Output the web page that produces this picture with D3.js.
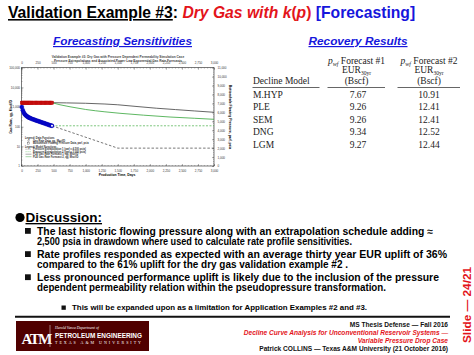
<!DOCTYPE html>
<html><head><meta charset="utf-8">
<script src="https://cdn.jsdelivr.net/npm/d3@7"></script>
<style>body{margin:0;background:#fff}svg{display:block}</style>
</head><body><div id="c"></div>
<script>
// ---------- data ----------
const dataDays = [5,20,35,50,65,80,95,110,125,140,160,180,200,220,240,260,280,300,320,340,360,380,400,420,440,460,475];
const rateData = [1650,1660,1655,1665,1660,1650,1660,1665,1655,1660,1660,1650,1660,1665,1655,1660,1660,1655,1660,1660,1655,1660,1665,1660,1655,1660,1660];
const pwfData  = [6600,6250,6000,5800,5680,5590,5510,5440,5390,5340,5280,5220,5170,5120,5070,5020,4970,4920,4870,4820,4770,4720,4670,4620,4570,4530,4500];
const extrap1Days = [475,3000];
const extrap1 = [4500,4500];
const extrap2Days = [475,1500,3000];
const extrap2 = [4500,2000,2000];
const fc1Days = [475,700,1000,1300,1500,1800,2100,2400,2700,3000];
const fc1 = [1660,1620,1550,1420,1300,1060,870,740,630,540];
const fc2Days = [475,600,756,1000,1300,1535,1900,2315,2700,3000];
const fc2 = [1660,1300,1030,750,570,480,385,310,267,237];
const xTicks = [0,250,500,750,1000,1250,1500,1750,2000,2250,2500,2750,3000];
const pTicks = [0,1000,2000,3000,4000,5000,6000,7000,8000,9000,10000,11000];
const qTicks = [1,10,100,1000,10000,100000];

const models = ["M.HYP","PLE","SEM","DNG","LGM"];
const eur1 = ["7.67","9.26","9.26","9.34","9.27"];
const eur2 = ["10.91","12.41","12.41","12.52","12.44"];

const bullets = [
 ["The last historic flowing pressure along with an extrapolation schedule adding \u2248", "2,500 psia in drawdown where used to calculate rate profile sensitivities."],
 ["Rate profiles responded as expected with an average thirty year EUR uplift of 36%", "compared to the 61% uplift for the dry gas validation example #2 ."],
 ["Less pronounced performance uplift is likely due to the inclusion of the pressure", "dependent permeability relation within the pseudopressure transformation."]
];
const bulletEnds = [[433,352],[447,348],[439,386]];

// ---------- setup ----------
const W=474,H=355;
const svg=d3.select("#c").append("svg").attr("width",W).attr("height",H);
svg.append("rect").attr("width",W).attr("height",H).attr("fill","#fff");
const SANS="'Liberation Sans',Arial,sans-serif", SERIF="'Liberation Serif','Times New Roman',serif";
const BLUE="#1616dc", RED="#e3141b";

// ---------- title ----------
const t=svg.append("text").attr("x",8).attr("y",18).attr("font-family",SANS).attr("font-weight","bold").attr("font-size",15.7);
t.append("tspan").attr("text-decoration","underline").text("Validation Example #3");
t.append("tspan").text(": ");
t.append("tspan").attr("fill",RED).attr("font-style","italic").text("Dry Gas with k");
t.append("tspan").attr("fill",RED).text("(");
t.append("tspan").attr("fill",RED).attr("font-style","italic").text("p");
t.append("tspan").attr("fill",RED).text(")");
t.append("tspan").attr("fill",BLUE).text(" [Forecasting]");

svg.append("text").attr("x",122.5).attr("y",45).attr("text-anchor","middle").attr("font-family",SANS)
  .attr("font-weight","bold").attr("font-style","italic").attr("font-size",11.8).attr("fill",BLUE)
  .attr("text-decoration","underline").text("Forecasting Sensitivities");
svg.append("text").attr("x",358).attr("y",45).attr("text-anchor","middle").attr("font-family",SANS)
  .attr("font-weight","bold").attr("font-style","italic").attr("font-size",11.8).attr("fill",BLUE)
  .attr("text-decoration","underline").text("Recovery Results");

// ---------- chart ----------
const x=d3.scaleLinear().domain([0,3000]).range([21.5,214]);
const yP=d3.scaleLinear().domain([0,11000]).range([166,67.7]);
const yQ=d3.scaleLog().domain([1,100000]).range([166,67.7]);
const g=svg.append("g").attr("font-family",SANS);
g.append("text").attr("x",118).attr("y",58).attr("text-anchor","middle").attr("font-size",3.2).attr("font-weight","bold").attr("fill","#444")
  .text("Validation Example #3: Dry Gas with Pressure Dependent Permeability Simulation Case");
g.append("text").attr("x",118).attr("y",61.6).attr("text-anchor","middle").attr("font-size",3.2).attr("font-weight","bold").attr("fill","#444")
  .text("Pressure Extrapolations and Associated Power Law Exponential Gas Rate Forecasts");

const fmt=d3.format(",");
function styleAxis(sel){sel.selectAll("text").attr("font-size",3).attr("font-family",SANS).attr("fill","#333");
  sel.selectAll("line").attr("stroke","#333").attr("stroke-width",0.4);sel.select(".domain").remove();}
g.append("g").attr("transform","translate(0,166)").call(d3.axisBottom(x).tickValues(xTicks).tickFormat(fmt).tickSizeInner(-2).tickPadding(3.5)).call(styleAxis);
g.append("g").attr("transform","translate(0,67.7)").call(d3.axisTop(x).tickValues(xTicks).tickFormat(fmt).tickSizeInner(-2).tickPadding(3.5)).call(styleAxis);
g.append("g").attr("transform","translate(214,0)").call(d3.axisRight(yP).tickValues(pTicks).tickFormat(fmt).tickSizeInner(-2).tickPadding(3.5)).call(styleAxis);
g.append("g").attr("transform","translate(21.5,0)").call(d3.axisLeft(yQ).tickValues(qTicks).tickFormat(fmt).tickSizeInner(-2).tickPadding(1.5)).call(styleAxis);
// minor ticks
const minorX=d3.range(0,3001,50);
g.append("g").selectAll("line").data(minorX).join("line").attr("x1",d=>x(d)).attr("x2",d=>x(d)).attr("y1",166).attr("y2",165).attr("stroke","#333").attr("stroke-width",0.3);
g.append("g").selectAll("line").data(minorX).join("line").attr("x1",d=>x(d)).attr("x2",d=>x(d)).attr("y1",67.7).attr("y2",68.7).attr("stroke","#333").attr("stroke-width",0.3);
const minorQ=[];qTicks.slice(0,-1).forEach(d=>{for(let k=2;k<10;k++)minorQ.push(d*k);});
g.append("g").selectAll("line").data(minorQ).join("line").attr("x1",21.5).attr("x2",22.6).attr("y1",d=>yQ(d)).attr("y2",d=>yQ(d)).attr("stroke","#333").attr("stroke-width",0.3);
const minorP=d3.range(0,11001,250);
g.append("g").selectAll("line").data(minorP).join("line").attr("x1",214).attr("x2",213).attr("y1",d=>yP(d)).attr("y2",d=>yP(d)).attr("stroke","#333").attr("stroke-width",0.3);
g.append("rect").attr("x",21.5).attr("y",67.7).attr("width",214-21.5).attr("height",166-67.7).attr("fill","none").attr("stroke","#222").attr("stroke-width",0.6);

g.append("text").attr("x",117).attr("y",176).attr("text-anchor","middle").attr("font-size",3.4).attr("font-weight","bold").text("Production Time, Days");
g.append("text").attr("transform","translate(11.5,117) rotate(-90)").attr("text-anchor","middle").attr("font-size",3.4).attr("font-weight","bold").text("Gas Rate, qg, Mscf/D");
g.append("text").attr("transform","translate(229,117) rotate(90)").attr("text-anchor","middle").attr("font-size",3.4).attr("font-weight","bold").text("Bottomhole Flowing Pressure, pwf, psia");

// lines
const lineP=(ds,vs)=>d3.line()(ds.map((d,i)=>[x(d),yP(vs[i])]));
g.append("path").attr("d",lineP(extrap1Days,extrap1)).attr("fill","none").attr("stroke","#5cb85c").attr("stroke-width",0.8).attr("stroke-dasharray","2,1.5");
g.append("path").attr("d",lineP(extrap2Days,extrap2)).attr("fill","none").attr("stroke","#555").attr("stroke-width",0.8).attr("stroke-dasharray","2.5,1.8");
g.append("path").attr("d",d3.line().curve(d3.curveMonotoneX)(fc1Days.map((d,i)=>[x(d),yQ(fc1[i])]))).attr("fill","none").attr("stroke","#555").attr("stroke-width",0.9);
g.append("path").attr("d",d3.line().curve(d3.curveMonotoneX)(fc2Days.map((d,i)=>[x(d),yQ(fc2[i])]))).attr("fill","none").attr("stroke","#4caf50").attr("stroke-width",0.9);
// markers
g.append("g").selectAll("circle").data(dataDays).join("circle").attr("cx",d=>x(d)).attr("cy",(d,i)=>yP(pwfData[i])).attr("r",2)
  .attr("fill","#0a0ad0").attr("stroke","#0000b0").attr("stroke-width",0.5);
g.append("circle").attr("cx",x(dataDays[dataDays.length-1])).attr("cy",yP(pwfData[pwfData.length-1])).attr("r",1).attr("fill","#fff");
g.append("g").selectAll("rect").data(dataDays).join("rect").attr("x",d=>x(d)-1.6).attr("y",(d,i)=>yQ(rateData[i])-1.6).attr("width",3.2).attr("height",3.2)
  .attr("fill","#c81414").attr("stroke","#b00").attr("stroke-width",0.4);

// legend
const lg=g.append("g").attr("font-size",2.6).attr("font-weight","bold").attr("fill","#333");
const legendItems=[
 {y:138.3,t:"Legend:  Data Functions"},
 {y:140.8,t:"Gas Rate Data, qg, Mscf/D",m:"circle"},
 {y:143.3,t:"Bottomhole Flowing Pressure Data, pwf, psia",m:"square"},
 {y:146.7,t:"Legend:  Model Functions"},
 {y:149.2,t:"Pressure Extrapolation 1 (pwf = 4,500 psia)",l:"#555",dash:"1.2,0.8"},
 {y:151.7,t:"Pressure Extrapolation 2 (pwf = 2,000 psia)",l:"#5cb85c",dash:"1.2,0.8"},
 {y:154.2,t:"PLE Gas Rate Forecast 1, qg, Mscf/D",l:"#555"},
 {y:156.7,t:"PLE Gas Rate Forecast 2, qg, Mscf/D",l:"#4caf50"}];
legendItems.forEach(it=>{
  const tx=it.m||it.l?33:25;
  lg.append("text").attr("x",tx).attr("y",it.y+0.9).text(it.t);
  if(it.m==="circle")lg.append("circle").attr("cx",28.5).attr("cy",it.y).attr("r",0.8).attr("fill","none").attr("stroke","#222").attr("stroke-width",0.3);
  if(it.m==="square")lg.append("rect").attr("x",27.7).attr("y",it.y-0.8).attr("width",1.6).attr("height",1.6).attr("fill","none").attr("stroke","#222").attr("stroke-width",0.3);
  if(it.l)lg.append("line").attr("x1",25.5).attr("x2",31.5).attr("y1",it.y).attr("y2",it.y).attr("stroke",it.l).attr("stroke-width",0.5).attr("stroke-dasharray",it.dash||null);
});

// ---------- table ----------
const tb=svg.append("g").attr("font-family",SERIF).attr("font-size",9.5).attr("fill","#222");
[356.5,429].forEach((cx,k)=>{
  const h=tb.append("text").attr("x",cx).attr("y",64).attr("text-anchor","middle");
  h.append("tspan").attr("font-style","italic").text("p");
  h.append("tspan").attr("font-size",6).attr("font-style","italic").attr("dy",1.5).text("wf");
  h.append("tspan").attr("dy",-1.5).text(" Forecast #"+(k+1));
  const e=tb.append("text").attr("x",cx).attr("y",73).attr("text-anchor","middle");
  e.append("tspan").text("EUR");
  e.append("tspan").attr("font-size",5.5).attr("dy",1.5).text("30yr");
  tb.append("text").attr("x",cx).attr("y",84).attr("text-anchor","middle").text("(Bscf)");
});
tb.append("text").attr("x",253).attr("y",84).text("Decline Model");
[[252.5,319.5],[327.5,385],[397.5,460]].forEach(s=>tb.append("line").attr("x1",s[0]).attr("x2",s[1]).attr("y1",87.5).attr("y2",87.5).attr("stroke","#666").attr("stroke-width",1));
models.forEach((m,i)=>{
  const yy=98+i*12.4;
  tb.append("text").attr("x",253).attr("y",yy).text(m);
  tb.append("text").attr("x",358).attr("y",yy).attr("text-anchor","middle").text(eur1[i]);
  tb.append("text").attr("x",429).attr("y",yy).attr("text-anchor","middle").text(eur2[i]);
});

// ---------- discussion ----------
svg.append("circle").attr("cx",20).attr("cy",217.5).attr("r",4.6).attr("fill","#000");
svg.append("text").attr("x",25.5).attr("y",222).attr("font-family",SANS).attr("font-weight","bold").attr("font-size",13.5)
  .attr("text-decoration","underline").text("Discussion:");
const db=svg.append("g").attr("font-family",SANS).attr("font-weight","bold").attr("font-size",10);
const lineY=[[234.5,244.5],[257.7,267.7],[280.8,291]];
bullets.forEach((b,i)=>{
  db.append("rect").attr("x",25).attr("y",lineY[i][0]-6.5).attr("width",5.8).attr("height",5.8).attr("fill","#111");
  b.forEach((ln,j)=>db.append("text").attr("x",37).attr("y",lineY[i][j]).attr("textLength",bulletEnds[i][j]-37).attr("lengthAdjust","spacingAndGlyphs").text(ln));
});
db.append("rect").attr("x",61.5).attr("y",305.5).attr("width",4.3).attr("height",4.3).attr("fill","#111");
db.append("text").attr("x",72).attr("y",310).attr("font-size",7.5).attr("textLength",295).attr("lengthAdjust","spacingAndGlyphs")
  .text("This will be expanded upon as a limitation for Application Examples #2 and #3.");

// ---------- footer ----------
svg.append("line").attr("x1",15).attr("x2",450).attr("y1",316.7).attr("y2",316.7).attr("stroke","#111").attr("stroke-width",2);
const lo=svg.append("g");
lo.append("rect").attr("x",16).attr("y",321).attr("width",133).attr("height",30).attr("fill","#500000");
lo.append("text").attr("x",21.5).attr("y",344).attr("font-family",SERIF).attr("font-weight","bold").attr("font-size",15).attr("fill","#fff").attr("letter-spacing",-1.5).text("ATM");
lo.append("line").attr("x1",50).attr("x2",50).attr("y1",325).attr("y2",347).attr("stroke","#d9c9c9").attr("stroke-width",0.6);
lo.append("text").attr("x",55).attr("y",329).attr("font-family",SERIF).attr("font-style","italic").attr("font-size",3.8).attr("fill","#fff").text("Harold Vance Department of");
lo.append("text").attr("x",55).attr("y",338).attr("font-family",SANS).attr("font-weight","bold").attr("font-size",7.6).attr("fill","#fff").attr("textLength",87).attr("lengthAdjust","spacingAndGlyphs").text("PETROLEUM ENGINEERING");
lo.append("text").attr("x",55).attr("y",344).attr("font-family",SERIF).attr("font-size",4).attr("fill","#fff").attr("textLength",87).attr("letter-spacing",1).text("TEXAS A&M UNIVERSITY");

const ft=svg.append("g").attr("font-family",SANS).attr("font-weight","bold").attr("font-size",6.6).attr("text-anchor","end");
ft.append("text").attr("x",448).attr("y",326.5).attr("fill","#111").text("MS Thesis Defense  \u2014 Fall 2016");
ft.append("text").attr("x",448).attr("y",334.5).attr("fill",RED).attr("font-style","italic").text("Decline Curve Analysis for Unconventional Reservoir Systems \u2014");
ft.append("text").attr("x",448).attr("y",342.5).attr("fill",RED).attr("font-style","italic").text("Variable Pressure Drop Case");
ft.append("text").attr("x",448).attr("y",350.5).attr("fill","#111").text("Patrick COLLINS \u2014 Texas A&M University (21 October 2016)");

svg.append("text").attr("transform","translate(470.5,343) rotate(-90)").attr("font-family",SANS).attr("font-weight","bold")
  .attr("font-size",11.8).attr("fill",RED).text("Slide \u2014 24/21");
</script></body></html>
